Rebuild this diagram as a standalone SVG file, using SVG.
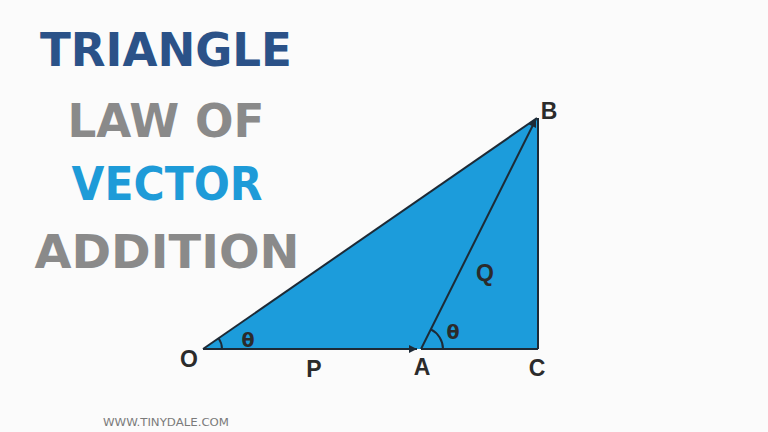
<svg xmlns="http://www.w3.org/2000/svg" width="768" height="432" viewBox="0 0 768 432">
<defs>
<style>
.title{font-family:"DejaVu Sans","Liberation Sans",sans-serif;font-weight:bold;font-size:46px;text-anchor:middle}
.lbl{font-family:"Liberation Sans",Arial,sans-serif;font-weight:bold;font-size:23px;fill:#2b2b2b;text-anchor:middle}
.th{font-family:"DejaVu Sans",sans-serif;font-weight:bold;font-size:19px;fill:#2b2b2b;text-anchor:middle}
.edge{stroke:#1d2a36;stroke-width:2;fill:none}
</style>
<marker id="arr2" viewBox="0 0 10 10" refX="10" refY="5" markerWidth="10" markerHeight="8" markerUnits="userSpaceOnUse" orient="auto">
<path d="M0,0 L10,5 L0,10 z" fill="#1d2a36"/>
</marker>
</defs>
<rect width="768" height="432" fill="#fbfbfb"/>
<g id="title">
<text class="title" x="166" y="66" fill="#2b5288" textLength="252" lengthAdjust="spacingAndGlyphs">TRIANGLE</text>
<text class="title" x="166" y="137" fill="#8a8a8a" textLength="197" lengthAdjust="spacingAndGlyphs">LAW OF</text>
<text class="title" x="167" y="200" fill="#1e9bd8" textLength="191" lengthAdjust="spacingAndGlyphs">VECTOR</text>
<text class="title" x="167" y="268" fill="#8a8a8a" textLength="265" lengthAdjust="spacingAndGlyphs">ADDITION</text>
</g>
<g id="triangle">
<polygon points="203,349 537,118 538,349" fill="#1c9cdb"/>
</g>
<g id="connectors">
<line class="edge" x1="203" y1="349" x2="537" y2="118"/>
<line class="edge" x1="421" y1="349" x2="538" y2="349"/>
<line class="edge" x1="538" y1="349" x2="538" y2="118"/>
<line class="edge" x1="203" y1="349" x2="417" y2="349" marker-end="url(#arr2)"/>
<line class="edge" x1="421" y1="349" x2="536" y2="119" marker-end="url(#arr2)"/>
<path class="edge" d="M222,349 A19,19 0 0 0 218.6,338.2" stroke-width="1.5"/>
<path class="edge" d="M443,349 A22,22 0 0 0 430.8,329.3" stroke-width="1.5"/>
</g>
<g id="node-O"><text class="lbl" x="189" y="367">O</text></g>
<g id="node-A"><text class="lbl" x="422" y="375">A</text></g>
<g id="node-C"><text class="lbl" x="537" y="376">C</text></g>
<g id="node-B"><text class="lbl" x="549" y="119">B</text></g>
<g id="label-P"><text class="lbl" x="314" y="377">P</text></g>
<g id="label-Q"><text class="lbl" x="485" y="281">Q</text></g>
<g id="theta-O"><text class="th" x="248" y="347">θ</text></g>
<g id="theta-A"><text class="th" x="453" y="339">θ</text></g>
<text x="166" y="426" font-family="'DejaVu Sans',sans-serif" font-size="10.5" fill="#7a7a7a" text-anchor="middle" textLength="126" lengthAdjust="spacingAndGlyphs">WWW.TINYDALE.COM</text>
</svg>
